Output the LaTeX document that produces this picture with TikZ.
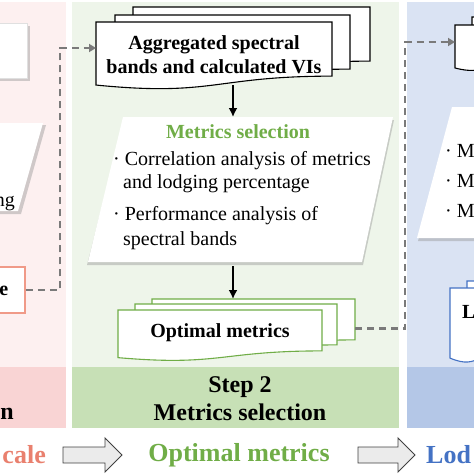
\documentclass[tikz,border=0pt]{standalone}
\usepackage{fontspec}
\setmainfont{Liberation Serif}
\usetikzlibrary{positioning,arrows.meta,fit,calc}
\definecolor{pinkbg}{HTML}{FDF0F0}
\definecolor{pinkband}{HTML}{F9D4D4}
\definecolor{greenbg}{HTML}{EEF5EA}
\definecolor{greenband}{HTML}{C7E0B6}
\definecolor{bluebg}{HTML}{DAE3F3}
\definecolor{blueband}{HTML}{B4C7E7}
\definecolor{salmontext}{HTML}{E9806E}
\definecolor{salmonline}{HTML}{F09A88}
\definecolor{metricgreen}{HTML}{70AD47}
\definecolor{lodgeblue}{HTML}{4472C4}
\definecolor{dashgray}{HTML}{7A7A7A}
\tikzset{
  flowarrow/.style={-{Latex[length=9pt,width=9pt]}, line width=1.8pt},
  dashlink/.style={-{Triangle[length=7pt,width=8pt]}, line width=2.9pt, draw=dashgray, dash pattern=on 7pt off 5pt},
  plainpage/.style={draw=black, fill=white, line width=1.1pt},
  greenpage/.style={draw=metricgreen, fill=white, line width=1.1pt},
  bluepage/.style={draw=lodgeblue, fill=white, line width=1.1pt},
  whitepara/.style={fill=white},
  shadowcopy/.style={fill=black!40, opacity=0.45},
  plainbox/.style={fill=white, draw=black!12, inner sep=0pt},
  srcbox/.style={draw=salmonline, fill=white, line width=1.5pt, inner sep=0pt},
  region/.style={inner sep=0pt, outer sep=0pt, draw=none},
  bodytext/.style={font=\fontsize{20}{23}\selectfont, inner sep=0pt, text height=14pt, text depth=4pt},
  boldtext/.style={font=\bfseries\fontsize{20}{24}\selectfont, align=center, inner sep=0pt},
  bandtext/.style={font=\bfseries\fontsize{24}{28}\selectfont, align=center, inner sep=0pt},
  stagetext/.style={font=\bfseries\fontsize{26}{30}\selectfont, inner sep=0pt},
  blockarrow/.style={draw=black!75, fill=black!8, line width=0.9pt}
}
\newcommand{\docpage}[5]{%
  \path[#1] (#2,#3) -- ({#2+#4},#3) -- ({#2+#4},{#3+0.802*#5})
    .. controls ({#2+0.5*#4},{#3+0.802*#5}) and ({#2+0.5*#4},{#3+1.1075*#5}) .. (#2,{#3+0.934*#5}) -- cycle;}

\begin{document}
\begin{tikzpicture}[x=1pt, y=-1pt]
  \useasboundingbox (0,0) rectangle (474,474);
  \fill[pinkbg] (0,2) rectangle (66,367);
  \fill[greenbg] (72,2) rectangle (399,367);
  \fill[bluebg] (407,2) rectangle (474,367);
  \fill[pinkband] (0,367) rectangle (66,428);
  \fill[greenband] (72,367) rectangle (399,428);
  \fill[blueband] (407,367) rectangle (474,428);

  \path[shadowcopy] (-6,26) rectangle (30,81);
  \node[plainbox, minimum width=33, minimum height=55] (topleft) at (10.5,50.5) {};
  \path[shadowcopy] (-10,125) -- (46,125) -- (21,214) -- (-10,214) -- cycle;
  \path[whitepara] (-10,123) -- (43,123) -- (18,211) -- (-10,211) -- cycle;
  \node[bodytext, anchor=east] (leftng) at (15,201) {ng};
  \node[srcbox, minimum width=32, minimum height=46] (imgbox) at (9,290) {};
  \node[boldtext, anchor=east] (imgtext) at (8.5,291) {e};
  \node[bandtext, anchor=east] (stepone) at (14,414) {n};
  \node[stagetext, text=salmontext, anchor=east] (stageone) at (46,455) {cale};

  \docpage{plainpage}{133}{7}{237}{67.5}
  \docpage{plainpage}{115}{15}{235}{67.5}
  \docpage{plainpage}{96}{22}{236}{67.5}
  \node[region, fit={(96,7) (370,85)}] (aggdoc) {};
  \node[boldtext] (aggtext) at (214,55) {Aggregated spectral\\bands and calculated VIs};

  \path[shadowcopy] (124,120) -- (394,120) -- (363,265) -- (87,265) -- cycle;
  \path[whitepara] (123,117) -- (393,117) -- (362,262) -- (88,262) -- cycle;
  \node[region, fit={(88,117) (393,262)}] (selbox) {};
  \node[boldtext, text=metricgreen] (seltitle) at (238,132) {Metrics selection};
  \node[bodytext, anchor=west] (selone) at (113,160) {· Correlation analysis of metrics};
  \node[bodytext, anchor=west] (seltwo) at (123,183) {and lodging percentage};
  \node[bodytext, anchor=west] (selthree) at (113,215) {· Performance analysis of};
  \node[bodytext, anchor=west] (selfour) at (123,240) {spectral bands};

  \docpage{greenpage}{152}{299}{203}{51}
  \docpage{greenpage}{135}{304}{202}{51}
  \docpage{greenpage}{118}{310}{204}{51}
  \node[region, fit={(118,299) (355,358)}] (optdoc) {};
  \node[boldtext] (opttext) at (220,333) {Optimal metrics};

  \draw[flowarrow] (aggdoc.south) -- (aggdoc.south |- selbox.north);
  \draw[flowarrow, shorten <=4pt] (aggdoc.south |- selbox.south) -- (aggdoc.south |- optdoc.north);

  \node[bandtext] (steptwo) at (240,399) {Step 2\\Metrics selection};
  \node[stagetext, text=metricgreen] (stagetwo) at (239,455) {Optimal metrics};

  \path[shadowcopy] (453,110) -- (490,110) -- (490,241) -- (418,241) -- cycle;
  \path[whitepara] (452,107) -- (490,107) -- (490,238) -- (417,238) -- cycle;
  \node[bodytext, anchor=west] (resone) at (445,152) {· M};
  \node[bodytext, anchor=west] (restwo) at (445,182) {· M};
  \node[bodytext, anchor=west] (resthree) at (445,212) {· M};

  \docpage{plainpage}{472}{17}{60}{46}
  \docpage{plainpage}{455}{25}{60}{46}
  \node[region, fit={(455,17) (532,68)}] (resdoc) {};

  \docpage{bluepage}{467}{281}{60}{75}
  \docpage{bluepage}{450}{288}{60}{75}
  \node[boldtext, anchor=west] (lodtext) at (462,312) {L};
  \node[stagetext, text=lodgeblue, anchor=west] (stagethree) at (426,455) {Lod};

  \coordinate (bendL) at (60,48);
  \coordinate (bendR) at (405,42);
  \draw[dashlink] (imgbox.east) -| (bendL) -- (bendL -| aggdoc.west);
  \draw[dashlink] (optdoc.east) -| (bendR) -- (bendR -| resdoc.west);

  \path[blockarrow] (63,447) -- (105,447) -- (105,438) -- (122,455) -- (105,472) -- (105,463) -- (63,463) -- cycle;
  \path[blockarrow] (358,447) -- (398,447) -- (398,438) -- (415,455) -- (398,472) -- (398,463) -- (358,463) -- cycle;
\end{tikzpicture}
\end{document}
